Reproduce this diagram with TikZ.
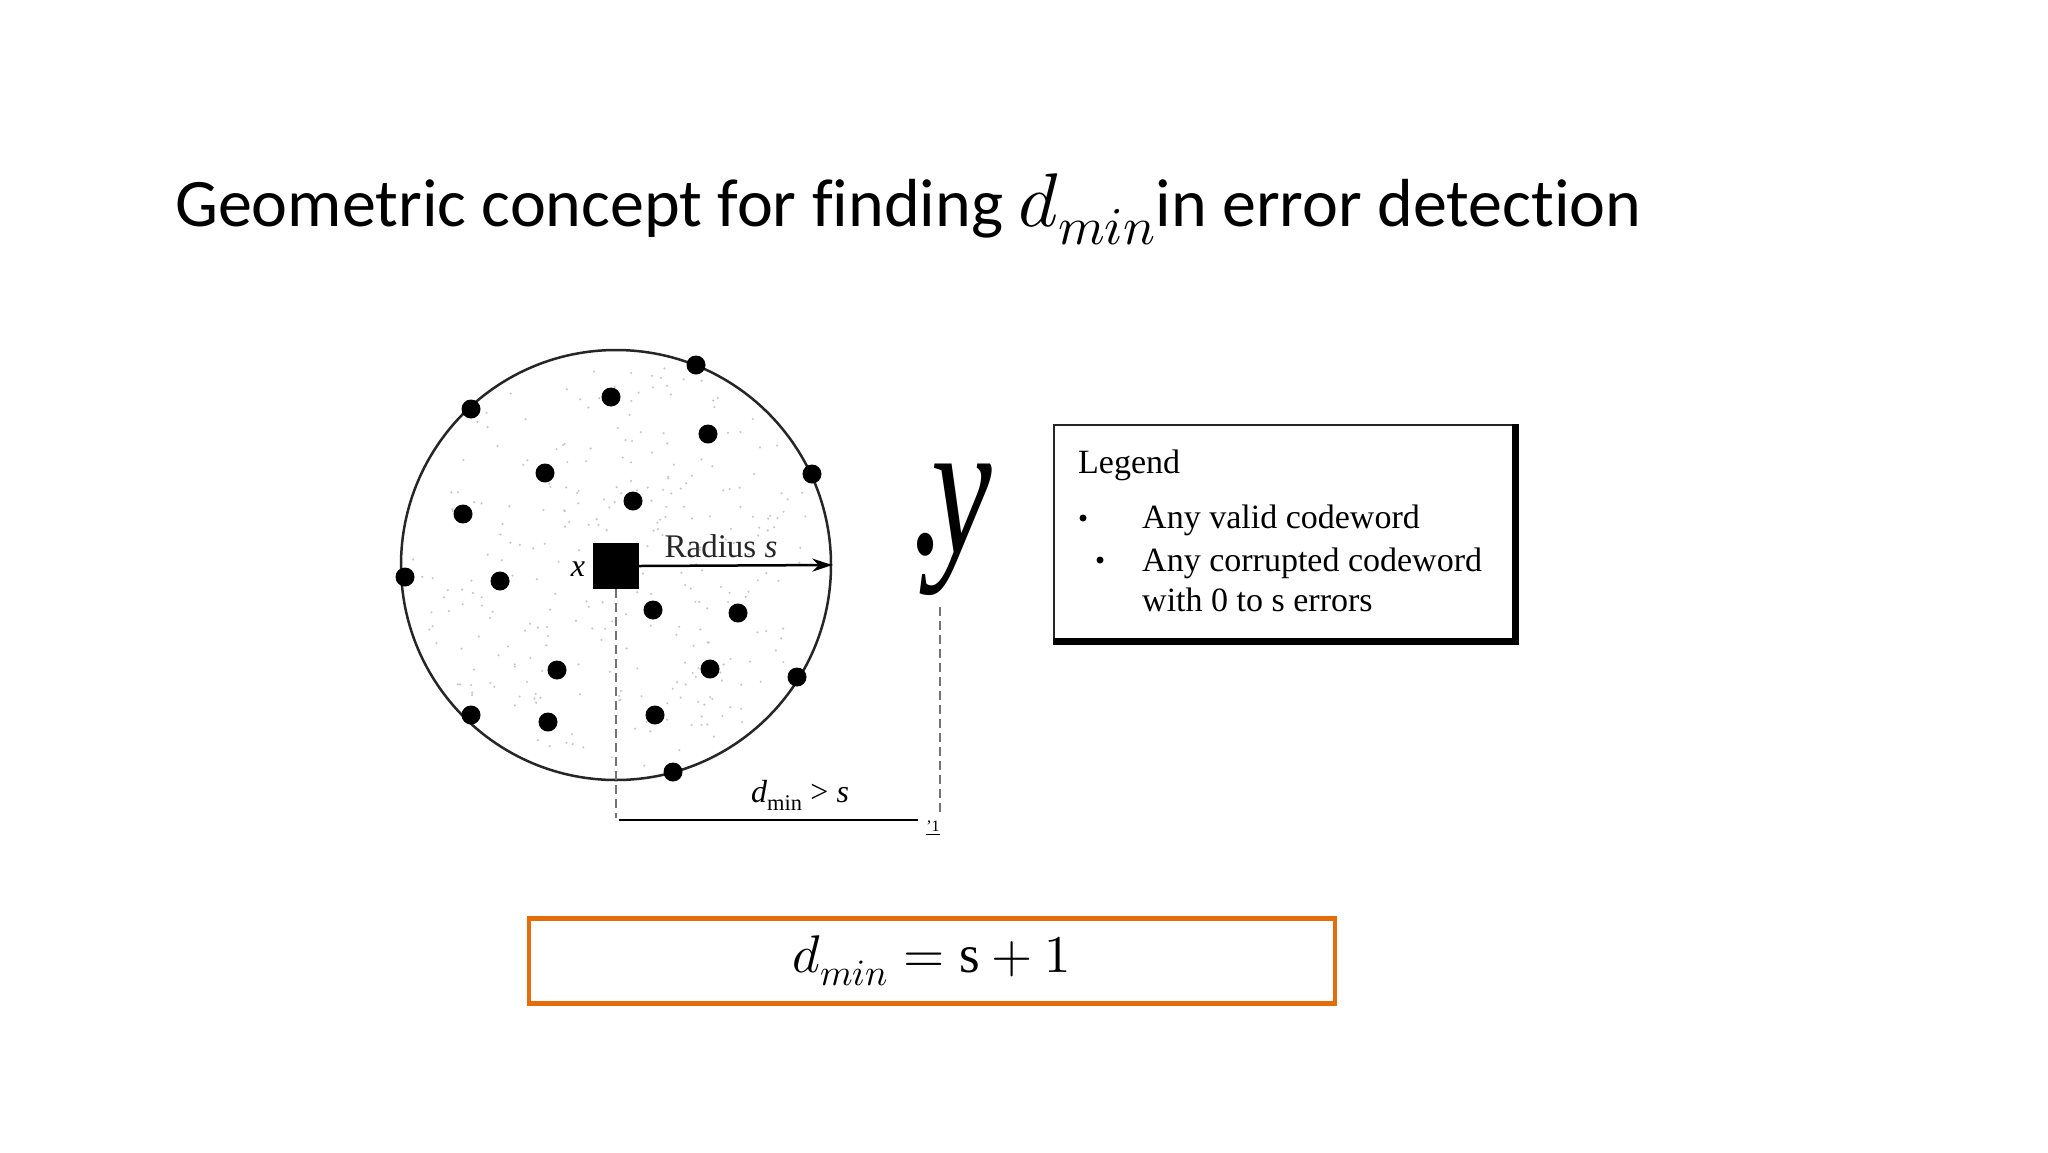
\documentclass[tikz,border=0pt]{standalone}
\usepackage{fontspec}
\usepackage{unicode-math}
\setmainfont{Liberation Serif}
\setmathfont{Latin Modern Math}
\newfontfamily\titlefont[Ligatures=NoCommon]{Carlito}
\usetikzlibrary{arrows.meta}
\definecolor{boxorange}{HTML}{E46C0A}
\begin{document}
\begin{tikzpicture}[x=1pt,y=-1pt,
  codeword/.style={circle,fill=black,inner sep=0pt,minimum size=19pt},
  legbullet/.style={circle,fill=black,inner sep=0pt,minimum size=7pt},
  guide/.style={draw=black!55,line width=2pt,dash pattern=on 9pt off 5pt},
  legtext/.style={anchor=base west,inner sep=0pt,font=\fontsize{34}{37}\selectfont}]
\useasboundingbox (0,0) rectangle (2048,1152);
\fill[white] (0,0) rectangle (2048,1152);

% title
\node[anchor=base west,inner sep=0pt,font=\titlefont\fontsize{68}{76}\selectfont] (title) at (175,226)
  {Geometric concept for finding {\fontsize{76}{80}\selectfont$d_{min}$}in error detection};

% faint speckles inside the sphere
\pgfmathsetseed{7}
\foreach \i in {1,...,300}{
  \pgfmathsetmacro\rr{204*sqrt(rnd)}
  \pgfmathsetmacro\aa{360*rnd}
  \fill[black!22,shift={(616,565)}] (\aa:\rr) circle (1.2pt);
}

% sphere
\node[circle,draw=black!85,line width=2.5pt,minimum size=430pt,inner sep=0pt] (sphere) at (616,565) {};

% codewords
\foreach \p [count=\k] in {(696,365),(611,397),(471,409),(708,434),(812,474),(545,473),(633,501),(463,514),(405,577),(500,581),(653,610),(738,613),(557,670),(710,669),(797,677),(471,715),(548,722),(655,715),(673,772)}
  \node[codeword] (c\k) at \p {};

% valid codeword x
\node[fill=black,minimum size=46pt,inner sep=0pt] (x) at (616,566) {};
\node[font=\itshape\fontsize{32}{36}\selectfont,inner sep=0pt] (xlabel) at (578,569) {x};
\draw[line width=2.5pt,-{Stealth[length=20pt,width=13pt]}] (x.east) -- (sphere.east);
\node[font=\fontsize{33}{36}\selectfont,text=black!85,inner sep=0pt] (radius) at (721,546) {Radius \textit{s}};

% distance
\coordinate (xfoot) at (616,818);
\draw[guide] (x.south) -- (xfoot);
\coordinate (hl) at (619,820);
\coordinate (hr) at (918,820);
\draw[line width=2.5pt] (hl) -- (hr);
\node[font=\fontsize{32}{36}\selectfont,inner sep=0pt] (dmin) at (800,795) {\textit{d}\textsubscript{min} \textgreater{} \textit{s}};
\node[font=\fontsize{16}{18}\selectfont,inner sep=0pt] (one) at (933,828) {\underline{'1}};

% codeword y
\node[anchor=base west,inner sep=0pt,font=\fontsize{195}{200}\selectfont] (y) at (908,553)
  {\scalebox{0.7}[1]{.\kern-0.08em\textit{y}}};
\coordinate (ytop) at (940,607);
\coordinate (ybot) at (940,815);
\draw[guide] (ytop) -- (ybot);

% legend
\node[draw=black!85,line width=2pt,minimum width=460pt,minimum height=215pt,inner sep=0pt,anchor=north west] (legend) at (1053,424) {};
\draw[line width=7pt] (legend.north east) -- (legend.south east) -- (legend.south west);
\node[legtext] (legtitle) at (1078,473) {Legend};
\node[legbullet] (b1) at (1083,518) {};
\node[legbullet] (b2) at (1100,560) {};
\node[legtext] (l1) at (1142,528) {Any valid codeword};
\node[legtext] (l2) at (1142,571) {Any corrupted codeword};
\node[legtext] (l3) at (1142,611) {with 0 to s errors};

% formula
\node[draw=boxorange,line width=4.5pt,minimum width=806pt,minimum height=85pt,inner sep=0pt,font=\fontsize{53}{60}\selectfont] (formula) at (932,961)
  {$d_{min} = \mathrm{s} + 1$};
\end{tikzpicture}
\end{document}
